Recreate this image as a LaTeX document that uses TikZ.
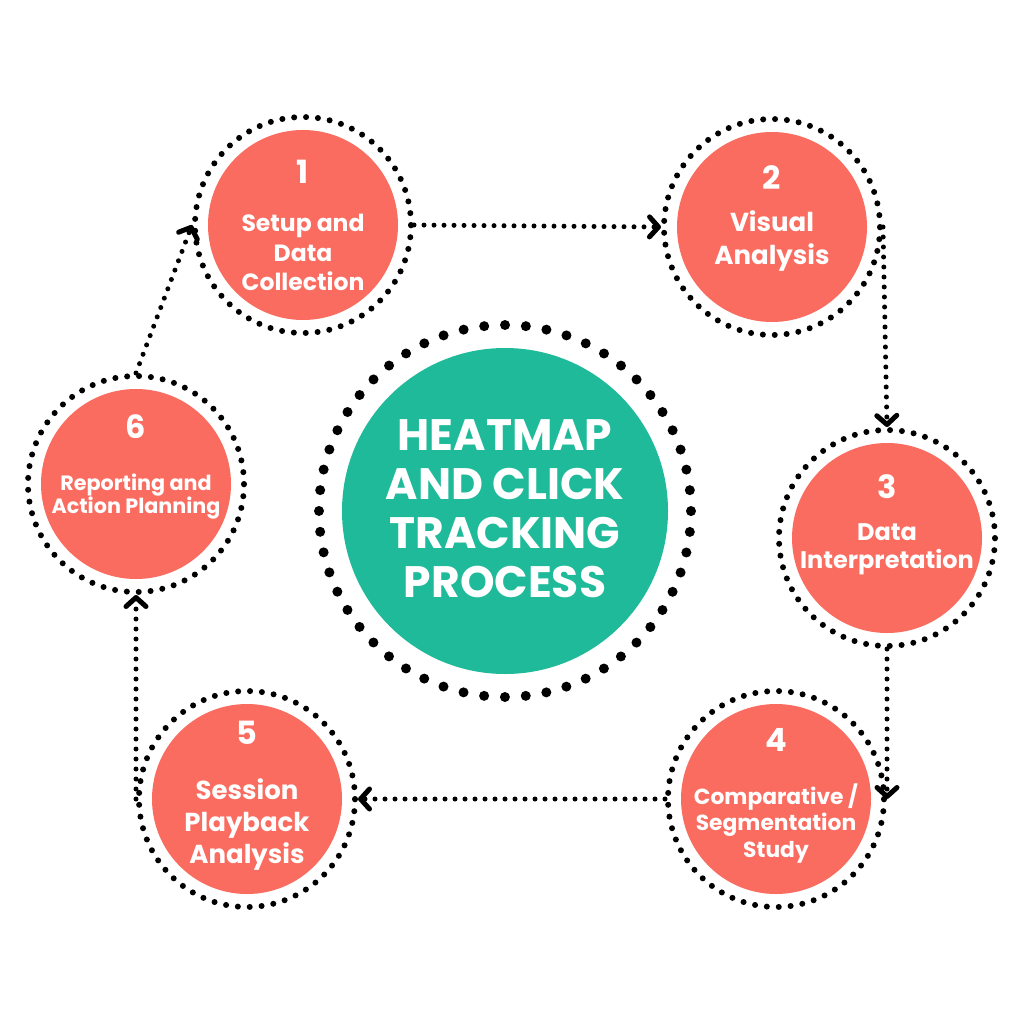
\documentclass[tikz,border=0pt]{standalone}
\usepackage{fontspec}
\setmainfont{Poppins}
\usetikzlibrary{arrows.meta,calc}
\definecolor{salmon}{RGB}{250,108,96}
\definecolor{tealc}{RGB}{30,186,153}
\tikzset{
  stepnode/.style={circle, minimum size=216pt, inner sep=0pt, draw=black,
    line width=6pt, line cap=round, dash pattern=on 0pt off 11.9pt,
    path picture={\fill[salmon] (path picture bounding box.center) circle (95pt);}},
  hubnode/.style={circle, minimum size=372pt, inner sep=0pt, draw=black,
    line width=10pt, line cap=round, dash pattern=on 0pt off 20.87pt,
    path picture={\fill[tealc] (path picture bounding box.center) circle (163pt);}},
  numtxt/.style={text=white, font=\bfseries\fontsize{32}{32}\selectfont, inner sep=0pt},
  lbltxt/.style={text=white, align=center, inner sep=0pt},
  flow/.style={draw=black, line width=5pt, line cap=round, dash pattern=on 0pt off 10pt,
    -{Straight Barb[length=9pt,width=20pt,line width=5pt,round]}},
}
\begin{document}
\begin{tikzpicture}[x=1pt,y=-1pt]
\useasboundingbox[fill=white] (0,0) rectangle (1024,1024);

\node[hubnode] (hub) at (505,511) {};
\node[lbltxt, font=\bfseries\fontsize{44}{49}\selectfont] (title) at (505,509)
  {HEATMAP\\AND CLICK\\TRACKING\\PROCESS};

\node[stepnode] (c1) at (303,225) {};
\node[stepnode] (c2) at (772,227) {};
\node[stepnode] (c3) at (887,538) {};
\node[stepnode] (c4) at (776,799) {};
\node[stepnode] (c5) at (247,799) {};
\node[stepnode] (c6) at (136,484) {};

\node[numtxt] (n1) at ($(c1)+(0,-53)$) {1};
\node[numtxt] (n2) at ($(c2)+(0,-49)$) {2};
\node[numtxt] (n3) at ($(c3)+(0,-51)$) {3};
\node[numtxt] (n4) at ($(c4)+(0,-59)$) {4};
\node[numtxt] (n5) at ($(c5)+(0,-66)$) {5};
\node[numtxt] (n6) at ($(c6)+(0,-57)$) {6};

\node[lbltxt, font=\bfseries\fontsize{23.5}{29.5}\selectfont] (t1) at ($(c1)+(0,27.5)$) {Setup and\\Data\\Collection};
\node[lbltxt, font=\bfseries\fontsize{26}{33}\selectfont] (t2) at ($(c2)+(0,14.5)$) {Visual\\Analysis};
\node[lbltxt, font=\bfseries\fontsize{24}{28}\selectfont] (t3) at ($(c3)+(0,11)$) {Data\\Interpretation};
\node[lbltxt, font=\bfseries\fontsize{21.8}{26.5}\selectfont] (t4) at ($(c4)+(0,24.5)$) {Comparative /\\Segmentation\\Study};
\node[lbltxt, font=\bfseries\fontsize{26}{32}\selectfont] (t5) at ($(c5)+(0,25.5)$) {Session\\Playback\\Analysis};
\node[lbltxt, font=\bfseries\fontsize{20.7}{23}\selectfont] (t6) at ($(c6)+(0,12.5)$) {Reporting and\\Action Planning};

\draw[flow] (c1.east) -- (c2.west);
\draw[flow] (c2.east) -- (c3.north);
\draw[flow] (c3.south) -- (c3.south |- c4.east);
\draw[flow] (c4.west) -- (c5.east);
\draw[flow] (c5.west) -- (c5.west |- c6.south);
\draw[flow] (c6.north) -- (c1.west);
\end{tikzpicture}
\end{document}
